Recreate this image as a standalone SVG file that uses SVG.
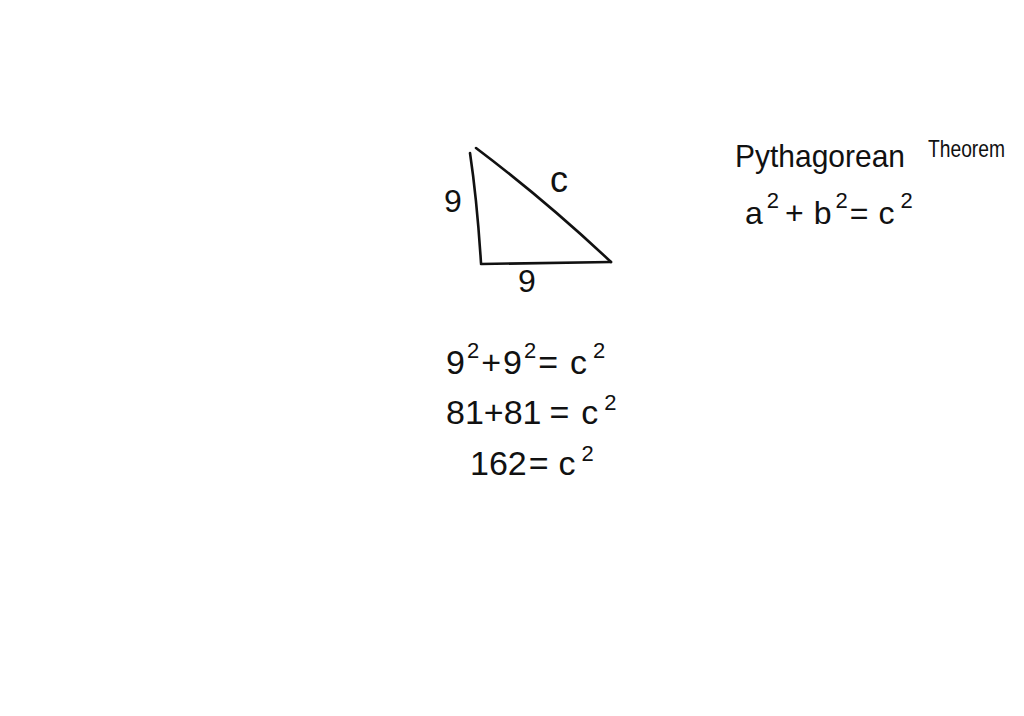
<svg xmlns="http://www.w3.org/2000/svg" width="1024" height="716" viewBox="0 0 1024 716">
<style>
.ink{fill:none;stroke:#111;stroke-width:2.6;stroke-linecap:round;stroke-linejoin:round}
.t{font-family:"Liberation Sans",Arial,sans-serif;fill:#111}
.sup{font-size:22px}
</style>
<rect width="1024" height="716" fill="#fff"/>
<g id="triangle">
<path class="ink" d="M470,153 Q477,200 481,263"/>
<path class="ink" d="M476,148 Q545,200 611,262"/>
<path class="ink" d="M481,264 L611,262"/>
</g>
<g id="labels" class="t" font-size="32">
<text x="444" y="212">9</text>
<text x="550" y="192" font-size="36">c</text>
<text x="518" y="292">9</text>
</g>
<g id="theorem" class="t">
<text x="735" y="167" font-size="32" textLength="170" lengthAdjust="spacingAndGlyphs">Pythagorean</text>
<text x="928" y="157" font-size="24" textLength="77" lengthAdjust="spacingAndGlyphs">Theorem</text>
<text x="745" y="224" font-size="32">a<tspan class="sup" dx="4" dy="-16">2</tspan><tspan dx="6" dy="16">+</tspan><tspan dx="10">b</tspan><tspan class="sup" dx="4" dy="-16">2</tspan><tspan dx="2" dy="16">=</tspan><tspan dx="10">c</tspan><tspan class="sup" dx="6" dy="-16">2</tspan></text>
</g>
<g id="work" class="t" font-size="34">
<text x="446" y="374">9<tspan class="sup" dx="2" dy="-16">2</tspan><tspan dx="2" dy="16">+</tspan><tspan dx="2">9</tspan><tspan class="sup" dx="2" dy="-16">2</tspan><tspan dx="2" dy="16">=</tspan><tspan dx="12">c</tspan><tspan class="sup" dx="6" dy="-16">2</tspan></text>
<text x="446" y="424">81+81<tspan dx="8">=</tspan><tspan dx="12">c</tspan><tspan class="sup" dx="6" dy="-14">2</tspan></text>
<text x="470" y="475">162<tspan dx="2">=</tspan><tspan dx="10">c</tspan><tspan class="sup" dx="6" dy="-14">2</tspan></text>
</g>
</svg>
